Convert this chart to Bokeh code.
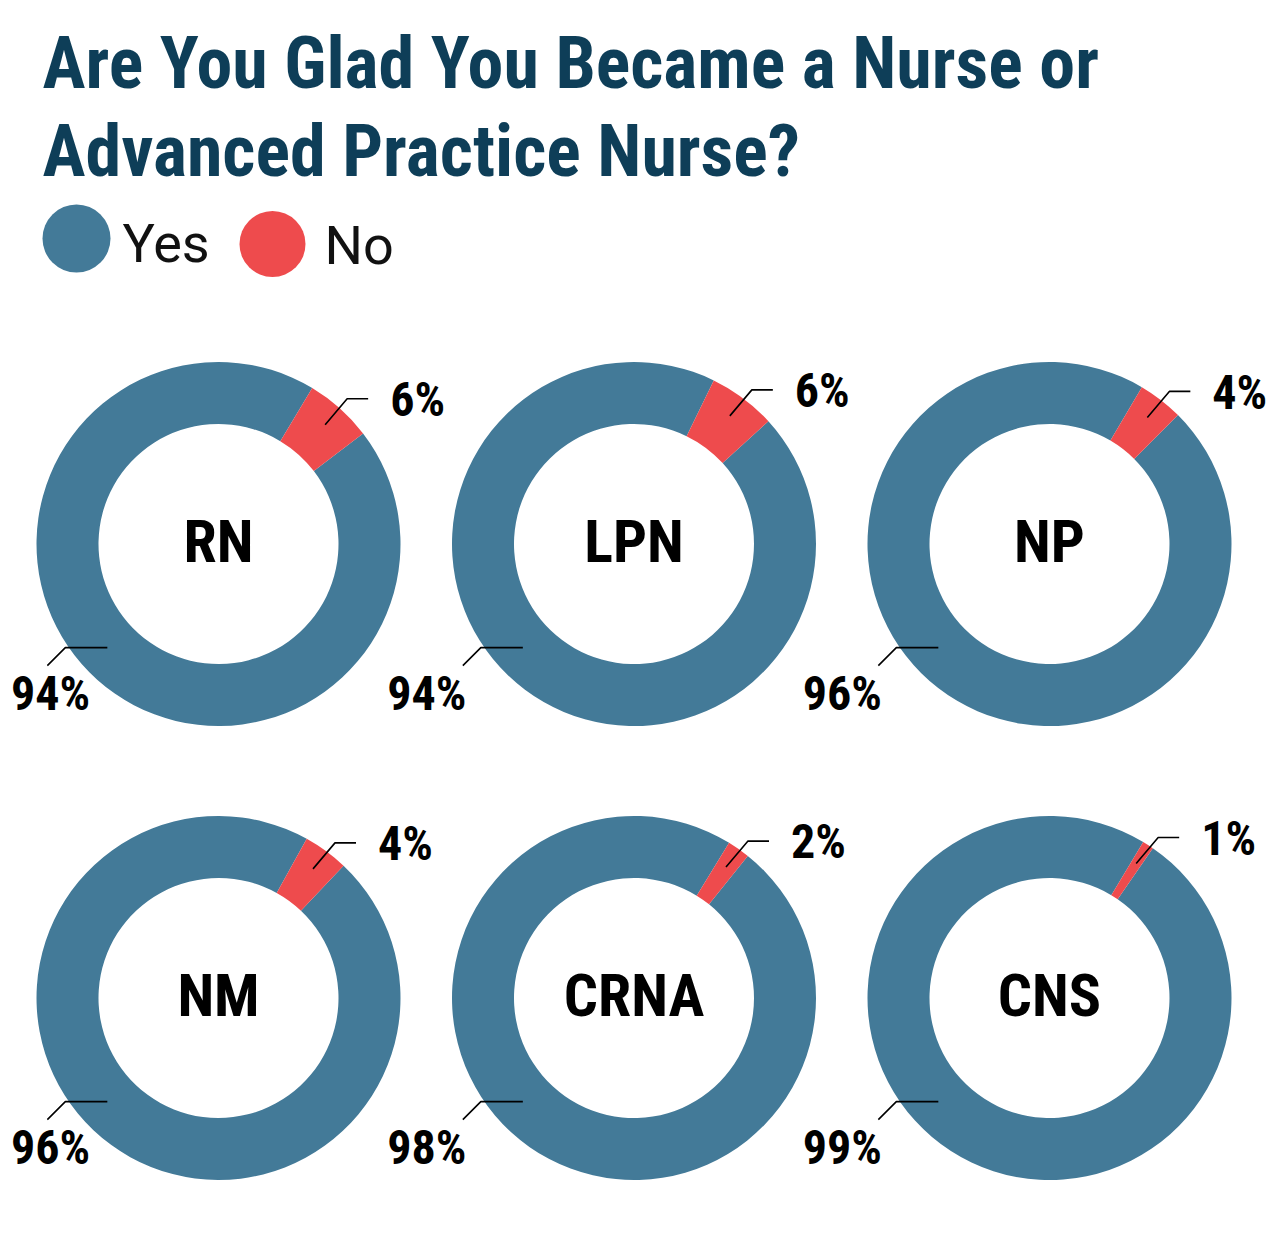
import math
from bokeh.plotting import figure
from bokeh.models import Range1d
from bokeh.core.properties import value
from bokeh.embed import file_html
from bokeh.resources import INLINE

# ---------------- data ----------------
title_lines = ["Are You Glad You Became a Nurse or", "Advanced Practice Nurse?"]
series_names = ["Yes", "No"]
categories = ["RN", "LPN", "NP", "NM", "CRNA", "CNS"]
yes_pct = [94, 94, 96, 96, 98, 99]
no_pct = [6, 6, 4, 4, 2, 1]

# ---------------- style / layout ----------------
BLUE = "#437a98"
RED = "#ee4b4d"
NAVY = "#0e3e58"
COND = "Roboto Condensed"
W, H = 1273, 1235


def Y(y):
    """picture y (from top) -> data y"""
    return H - y


def TB(y, size):
    """baseline position for a text of given px size (compensates renderer offset)"""
    return Y(y - 0.36 * size)


col_x = [218, 633.5, 1049]
row_y = [543.5, 997.5]
start_deg = [31, 26, 30.5, 29, 31.5, 31]  # rotation of the "No" slice (clockwise from top)
R_OUT, R_IN = 182, 120
PCT_SIZE = 48

p = figure(width=W, height=H, x_range=Range1d(0, W), y_range=Range1d(0, H),
           output_backend="svg", toolbar_location=None, x_axis_type=None, y_axis_type=None,
           min_border=0, outline_line_color=None)
p.grid.visible = False
p.background_fill_color = "white"
p.border_fill_color = "white"

# title
p.text(x=[42, 42], y=[TB(89, 72), TB(177, 72)], text=title_lines, text_font=value(COND),
       text_font_style="bold", text_font_size="72px", text_color=NAVY,
       text_baseline="alphabetic", text_align="left")

# legend
p.circle(x=[76, 272], y=[Y(238), Y(243.5)], radius=[34, 33], radius_units="screen",
         fill_color=[BLUE, RED], line_color=None)
p.text(x=[122, 324], y=[TB(262, 54), TB(264, 54)], text=series_names, text_font=value("Roboto"),
       text_font_size="54px", text_color="#111111", text_baseline="alphabetic")

seg_xs, seg_ys = [], []
red_lbl_x, red_lbl_y, red_lbl_t = [], [], []
blue_lbl_x, blue_lbl_y, blue_lbl_t = [], [], []
cen_x, cen_y = [], []

for i, cat in enumerate(categories):
    cx = col_x[i % 3]
    cy = row_y[i // 3]
    s = start_deg[i]
    no_span = 360.0 * no_pct[i] / (no_pct[i] + yes_pct[i])
    # bokeh angles: anticlockwise from +x ; clockwise-from-top t -> 90 - t
    red_start = math.radians(90 - (s + no_span))
    red_end = math.radians(90 - s)
    p.annular_wedge(x=cx, y=Y(cy), inner_radius=R_IN, outer_radius=R_OUT,
                    start_angle=red_end - 2 * math.pi + 1e-9, end_angle=red_start,
                    inner_radius_units="screen", outer_radius_units="screen",
                    fill_color=BLUE, line_color=None)
    p.annular_wedge(x=cx, y=Y(cy), inner_radius=R_IN, outer_radius=R_OUT,
                    start_angle=red_start, end_angle=red_end,
                    inner_radius_units="screen", outer_radius_units="screen",
                    fill_color=RED, line_color=None)

    # "No" label leader (picture coordinates)
    mid = math.radians(s + no_span / 2)
    ax = cx + 160 * math.sin(mid)
    ay = cy - 160 * math.cos(mid)
    ex, ey = ax + 22, ay - 26
    hx = ex + 21
    seg_xs.append([ax, ex, hx])
    seg_ys.append([Y(ay), Y(ey), Y(ey)])
    red_lbl_x.append(hx + 22)
    red_lbl_y.append(TB(ey + 18, PCT_SIZE))
    red_lbl_t.append(f"{no_pct[i]}%")

    # "Yes" label leader
    ang = math.radians(227)
    bx = cx + 152 * math.sin(ang)
    by = cy - 152 * math.cos(ang)
    hx2 = bx - 42
    dx, dy = hx2 - 18, by + 18
    seg_xs.append([bx, hx2, dx])
    seg_ys.append([Y(by), Y(by), Y(dy)])
    blue_lbl_x.append(max(dx - 36, 50))
    blue_lbl_y.append(TB(dy + 45, PCT_SIZE))
    blue_lbl_t.append(f"{yes_pct[i]}%")

    cen_x.append(cx)
    cen_y.append(TB(cy + 19.5, 60))

p.multi_line(xs=seg_xs, ys=seg_ys, line_color="black", line_width=1.6)

p.text(x=red_lbl_x, y=red_lbl_y, text=red_lbl_t, text_font=value(COND), text_font_style="bold",
       text_font_size=f"{PCT_SIZE}px", text_color="black", text_align="left",
       text_baseline="alphabetic")
p.text(x=blue_lbl_x, y=blue_lbl_y, text=blue_lbl_t, text_font=value(COND), text_font_style="bold",
       text_font_size=f"{PCT_SIZE}px", text_color="black", text_align="center",
       text_baseline="alphabetic")
p.text(x=cen_x, y=cen_y, text=categories, text_font=value(COND), text_font_style="bold",
       text_font_size="60px", text_color="black", text_align="center", text_baseline="alphabetic")

open("out.html", "w").write(file_html(p, INLINE))
